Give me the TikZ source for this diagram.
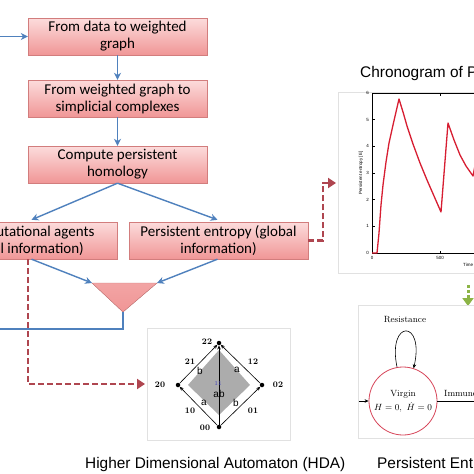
\documentclass[tikz,border=0pt]{standalone}
\usepackage{fontspec}
\newfontfamily\calibrif{Carlito}
\newfontfamily\arialf{Liberation Sans}
\usetikzlibrary{arrows.meta,calc}
\definecolor{flowblue}{RGB}{79,129,189}
\definecolor{pinktop}{RGB}{252,220,220}
\definecolor{pinkbot}{RGB}{240,150,150}
\definecolor{pinkborder}{RGB}{210,125,125}
\definecolor{darkred}{RGB}{175,70,80}
\definecolor{plotred}{RGB}{215,30,50}
\definecolor{circred}{RGB}{215,70,90}
\definecolor{dgreen}{RGB}{140,180,70}
\definecolor{framegray}{RGB}{225,225,225}
\tikzset{
  flowbox/.style={draw=pinkborder, top color=pinktop, bottom color=pinkbot,
    minimum width=179pt, minimum height=37pt, inner sep=0pt, align=center,
    font=\calibrif\fontsize{15}{17}\selectfont},
  bluearrow/.style={draw=flowblue, line width=1.4pt, -{Stealth[length=7pt,width=7pt]}},
  blueline/.style={draw=flowblue, line width=1.4pt},
  reddash/.style={draw=darkred, line width=2.6pt, dash pattern=on 6pt off 3pt,
    -{Triangle[length=8pt,width=10pt]}},
  greendash/.style={draw=dgreen, line width=3pt, dash pattern=on 3pt off 2pt,
    -{Triangle[length=8pt,width=11pt]}},
  hdaedge/.style={draw=black, line width=0.6pt, -{Stealth[length=4pt,width=3.5pt]}},
  vdot/.style={circle, fill=black, inner sep=0pt, minimum size=4.5pt},
  numlab/.style={font=\rmfamily\bfseries\fontsize{8.5}{9}\selectfont, inner sep=0pt},
  letlab/.style={font=\arialf\fontsize{10}{10}\selectfont, inner sep=0pt},
  ticklab/.style={font=\arialf\fontsize{4.5}{5}\selectfont, inner sep=0pt},
  caption/.style={font=\arialf\fontsize{15.4}{16}\selectfont, inner sep=0pt},
  smallserif/.style={font=\rmfamily\fontsize{9}{10}\selectfont},
}
\begin{document}
\begin{tikzpicture}[x=1pt,y=-1pt]
\useasboundingbox (0,0) rectangle (474,474);
\clip (0,0) rectangle (474,474);
\fill[white] (0,0) rectangle (474,474);

% flow chart boxes
\node[flowbox] (b1) at (117.5,36.5) {From data to weighted\\graph};
\node[flowbox] (b2) at (117.5,98.5) {From weighted graph to\\simplicial complexes};
\node[flowbox] (b3) at (117.5,164.5) {Compute persistent\\homology};
\node[flowbox] (b4) at (27.5,240.5) {Computational agents\\(local information)};
\node[flowbox] (b5) at (218.5,240.5) {Persistent entropy (global\\information)};

\coordinate (in1) at (0,36.5);
\draw[bluearrow] (in1) -- (b1.west);
\draw[bluearrow] (b1) -- (b2);
\draw[bluearrow] (b2) -- (b3);
\draw[bluearrow] (b3.south) -- ([xshift=4pt,yshift=2pt]b4.north);
\draw[bluearrow] (b3.south) -- ([xshift=-1pt,yshift=2pt]b5.north);

% merge triangle
\coordinate (triL) at (92,283);
\coordinate (triR) at (157,283);
\coordinate (apex) at (123,312);
\filldraw[draw=pinkborder, top color=pinkbot!80!pinktop, bottom color=pinkbot] (triL) -- (triR) -- (apex) -- cycle;
\draw[bluearrow] ([xshift=4pt]b4.south) -- (triL);
\draw[bluearrow] ([xshift=-1pt]b5.south) -- (triR);
\coordinate (out1) at (0,329);
\draw[blueline] (apex) |- (out1);

% dashed red connectors
\coordinate (hdaIn) at (145,384);
\draw[reddash] ([xshift=0.5pt]b4.south) |- (hdaIn);
\coordinate (chartIn) at (336,183);
\draw[reddash] (b5.east) -| ($(chartIn)+(-13,0)$) -- (chartIn);

% chronogram
\node[caption, anchor=base west] (charttitle) at (360,77) {Chronogram of Persistent Entropy};
\draw[framegray, line width=0.6pt] (338,92) rectangle (490,273);
\draw[black, line width=0.5pt] (372,253) -- (372,93) -- (490,93);
\draw[black, line width=0.5pt] (372,253) -- (490,253);
\foreach \v [count=\i from 0] in {0,1,2,3,4,5,6} {
  \draw[black, line width=0.4pt] (372,253-26.67*\i) -- (374.5,253-26.67*\i);
  \node[ticklab, anchor=east] at (369,253-26.67*\i) {\v};
}
\draw[black, line width=0.4pt] (440,253) -- (440,250.5);
\draw[black, line width=0.4pt] (440,93) -- (440,95.5);
\node[ticklab, anchor=north] at (372,256) {0};
\node[ticklab, anchor=north] at (440,256) {500};
\node[ticklab, anchor=west] at (463,265) {Time [s]};
\node[ticklab, rotate=90] at (361,173) {Persistent entropy [E]};
\draw[plotred, line width=1.3pt, line join=round]
  plot coordinates {(372,253) (377,253) (379,233) (381,205) (383,185) (386,162)
  (389,143) (393,125) (396,112) (399,99) (403,112) (407,126) (413,144)
  (420,163) (427,180) (434,196) (441,212) (448,123) (454,140) (460,155)
  (466,166) (473,176) (478,150)};

% green arrow
\coordinate (gTop) at (468,285);
\coordinate (gTip) at (468,306);
\draw[greendash] (gTop) -- (gTip);

% HDA
\draw[framegray, line width=0.6pt] (147,328) rectangle (290,440);
\fill[gray!65] (219,350) -- (250,385) -- (219,415) -- (188,385) -- cycle;
\node[vdot] (v00) at (219,427) {};
\node[vdot] (v22) at (219,343) {};
\node[vdot] (v20) at (178,385) {};
\node[vdot] (v02) at (262,385) {};
\draw[hdaedge] (v00) -- (v20);
\draw[hdaedge] (v00) -- (v02);
\draw[hdaedge] (v20) -- (v22);
\draw[hdaedge] (v02) -- (v22);
\draw[hdaedge] (v00) -- (v22);
\node[numlab] (l22) at (207,342) {22};
\node[numlab] (l21) at (190,362) {21};
\node[numlab] (l12) at (253,362) {12};
\node[numlab] (l20) at (160,385) {20};
\node[numlab] (l02) at (278,385) {02};
\node[numlab] (l10) at (190,411) {10};
\node[numlab] (l01) at (253,411) {01};
\node[numlab] (l00) at (205,428) {00};
\node[letlab] (lb1) at (200,371) {b};
\node[letlab] (la1) at (237,370) {a};
\node[letlab] (la2) at (204,403) {a};
\node[letlab] (lb2) at (236,403) {b};
\node[font=\rmfamily\fontsize{6}{6}\selectfont, text=blue!50!gray, inner sep=0pt] (l11) at (218,383) {11};
\node[letlab] (lab) at (219,394) {ab};

% Persistent entropy automaton
\draw[framegray, line width=0.6pt] (358,305) rectangle (490,438);
\node[circle, draw=circred, line width=0.8pt, minimum size=68pt, inner sep=0pt,
  align=center, smallserif] (virgin) at (403,401) {Virgin\\[3pt]$H=0,\ \dot H=0$};
\draw[black, line width=0.6pt, -{Stealth[length=4pt,width=3.5pt]}]
  (virgin.100) .. controls (387,319) and (425,319) .. (virgin.72);
\node[smallserif, inner sep=0pt] (res) at (405,320) {Resistance};
\coordinate (vin) at (359,401);
\draw[black, line width=0.6pt, -{Stealth[length=4pt,width=3.5pt]}] (vin) -- (virgin.west);
\coordinate (vout) at (490,401);
\draw[black, line width=0.6pt] (virgin.east) -- (vout);
\node[smallserif, inner sep=0pt, anchor=south west] (imm) at (444,397) {Immune};

% captions
\node[caption, anchor=base west] (cap1) at (85,468) {Higher Dimensional Automaton (HDA)};
\node[caption, anchor=base west] (cap2) at (377,468) {Persistent Entropy Automaton};
\end{tikzpicture}
\end{document}
